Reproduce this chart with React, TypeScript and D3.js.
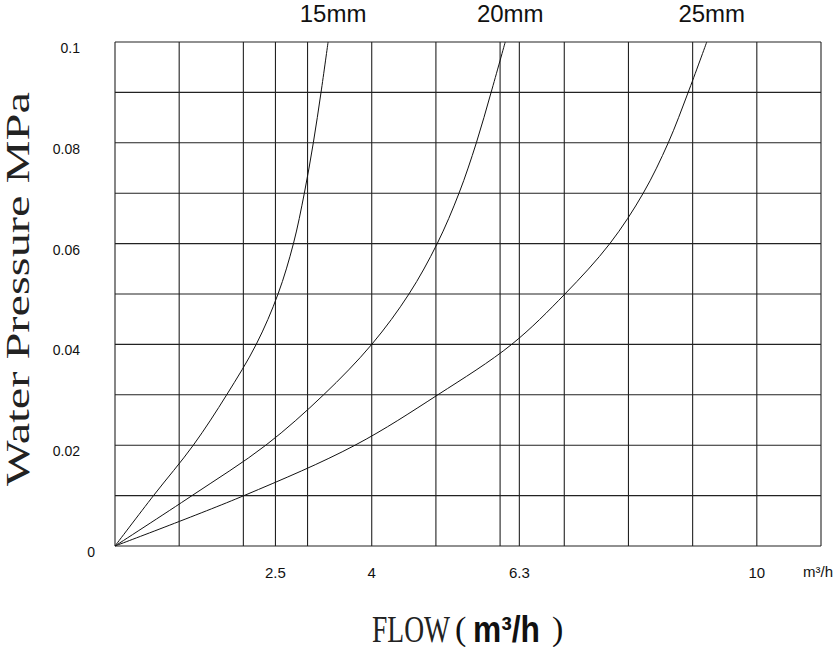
import { useRef, useEffect } from "react";
import * as d3 from "d3";

const WIDTH = 834;
const HEIGHT = 647;

// grid lines and tick labels (flow in m³/h, pressure in MPa)
const FLOW_GRID = [0, 1, 2, 2.5, 3, 4, 5, 6, 6.3, 7, 8, 9, 10, 11];
const FLOW_TICKS = [2.5, 4, 6.3, 10];
const PRESSURE_GRID = [0, 0.01, 0.02, 0.03, 0.04, 0.05, 0.06, 0.07, 0.08, 0.09, 0.1];
const PRESSURE_TICKS = [0, 0.02, 0.04, 0.06, 0.08, 0.1];

// curves
const PIPE_SIZES = ["15mm", "20mm", "25mm"];
const FLOW_15 = [0, 0.6, 1.22, 1.74, 2.2, 2.54, 2.78, 2.95, 3.09, 3.21, 3.32];
const PRESSURE_15 = [0, 0.01, 0.02, 0.03, 0.04, 0.05, 0.06, 0.07, 0.08, 0.09, 0.1];
const FLOW_20 = [0, 1.2, 2.35, 3.25, 4.0, 4.58, 5.02, 5.36, 5.63, 5.86, 6.08];
const PRESSURE_20 = [0, 0.01, 0.02, 0.03, 0.04, 0.05, 0.06, 0.07, 0.08, 0.09, 0.1];
const FLOW_25 = [0, 2.01, 3.74, 5.03, 6.18, 7.01, 7.71, 8.23, 8.62, 8.93, 9.22];
const PRESSURE_25 = [0, 0.01, 0.02, 0.03, 0.04, 0.05, 0.06, 0.07, 0.08, 0.09, 0.1];

const SANS = "'Liberation Sans', Arial, sans-serif";
const SERIF = "'Liberation Serif', 'DejaVu Serif', serif";

export default function App() {
  const svgRef = useRef<SVGSVGElement>(null);

  useEffect(() => {
    if (!svgRef.current) return;
    const svg = d3.select(svgRef.current);
    svg.selectAll("*").remove();

    const x = d3.scaleLinear().domain([0, 11]).range([115, 821]);
    const y = d3.scaleLinear().domain([0, 0.1]).range([546, 42]);

    svg.append("rect").attr("width", WIDTH).attr("height", HEIGHT).attr("fill", "#fff");

    const grid = svg.append("g").attr("stroke", "#222").attr("stroke-width", 1.1);
    grid
      .selectAll("line.v")
      .data(FLOW_GRID)
      .enter()
      .append("line")
      .attr("x1", (d) => x(d))
      .attr("x2", (d) => x(d))
      .attr("y1", y(0))
      .attr("y2", y(0.1));
    grid
      .selectAll("line.h")
      .data(PRESSURE_GRID)
      .enter()
      .append("line")
      .attr("x1", x(0))
      .attr("x2", x(11))
      .attr("y1", (d) => y(d))
      .attr("y2", (d) => y(d));

    // curves
    const series = [
      { name: PIPE_SIZES[0], flow: FLOW_15, pressure: PRESSURE_15 },
      { name: PIPE_SIZES[1], flow: FLOW_20, pressure: PRESSURE_20 },
      { name: PIPE_SIZES[2], flow: FLOW_25, pressure: PRESSURE_25 },
    ];
    const line = d3
      .line<[number, number]>()
      .x((d) => x(d[0]))
      .y((d) => y(d[1]))
      .curve(d3.curveCatmullRom.alpha(0.5));

    series.forEach((s) => {
      const pts = s.flow.map((f, i) => [f, s.pressure[i]] as [number, number]);
      svg
        .append("path")
        .attr("d", line(pts))
        .attr("fill", "none")
        .attr("stroke", "#111")
        .attr("stroke-width", 1);
      svg
        .append("text")
        .attr("x", x(s.flow[s.flow.length - 1]) + 5)
        .attr("y", 22)
        .attr("text-anchor", "middle")
        .attr("font-family", SANS)
        .attr("font-size", 24)
        .attr("fill", "#111")
        .text(s.name);
    });

    // tick labels
    svg
      .selectAll("text.xt")
      .data(FLOW_TICKS)
      .enter()
      .append("text")
      .attr("x", (d) => x(d))
      .attr("y", 578)
      .attr("text-anchor", "middle")
      .attr("font-family", SANS)
      .attr("font-size", 15)
      .attr("fill", "#111")
      .text((d) => String(d));
    svg
      .append("text")
      .attr("x", 833)
      .attr("y", 577)
      .attr("text-anchor", "end")
      .attr("font-family", SANS)
      .attr("font-size", 15)
      .attr("fill", "#111")
      .text("m³/h");

    svg
      .selectAll("text.yt")
      .data(PRESSURE_TICKS)
      .enter()
      .append("text")
      .attr("x", (d) => (d === 0 ? 95 : 80))
      .attr("y", (d) => y(d) + 11)
      .attr("text-anchor", "end")
      .attr("font-family", SANS)
      .attr("font-size", 14)
      .attr("fill", "#111")
      .text((d) => String(d));

    // axis titles
    svg
      .append("text")
      .attr("transform", "translate(29,289) rotate(-90)")
      .attr("text-anchor", "middle")
      .attr("font-family", SERIF)
      .attr("font-size", 33)
      .attr("textLength", 394)
      .attr("lengthAdjust", "spacingAndGlyphs")
      .attr("fill", "#222")
      .text("Water Pressure MPa");

    const title = svg.append("g").attr("fill", "#111");
    title
      .append("text")
      .attr("x", 372)
      .attr("y", 642)
      .attr("font-family", SERIF)
      .attr("font-size", 37)
      .attr("textLength", 78)
      .attr("lengthAdjust", "spacingAndGlyphs")
      .attr("fill", "#222")
      .text("FLOW");
    title
      .append("text")
      .attr("x", 455)
      .attr("y", 640)
      .attr("font-family", SERIF)
      .attr("font-size", 34)
      .text("(");
    title
      .append("text")
      .attr("x", 473)
      .attr("y", 642)
      .attr("font-family", SANS)
      .attr("font-weight", "bold")
      .attr("font-size", 36)
      .attr("textLength", 67)
      .attr("lengthAdjust", "spacingAndGlyphs")
      .text("m³/h");
    title
      .append("text")
      .attr("x", 552)
      .attr("y", 640)
      .attr("font-family", SERIF)
      .attr("font-size", 34)
      .text(")");
  }, []);

  return (
    <svg
      ref={svgRef}
      width={WIDTH}
      height={HEIGHT}
      style={{ position: "absolute", left: 0, top: 0, display: "block" }}
    />
  );
}
